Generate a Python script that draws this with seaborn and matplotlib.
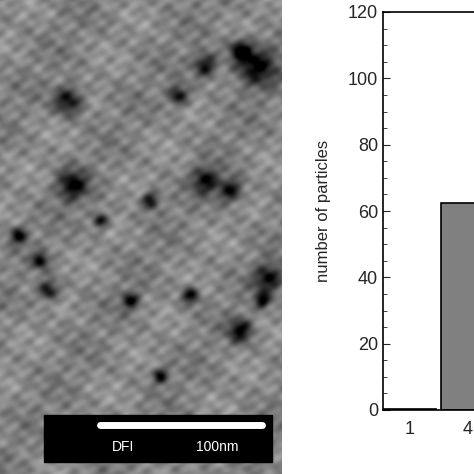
import numpy as np
import matplotlib
matplotlib.use("Agg")
import matplotlib.pyplot as plt
import seaborn as sns
import pandas as pd
from matplotlib.ticker import MultipleLocator

sns.set_style("white")
plt.rcParams['font.family'] = ['Liberation Sans', 'DejaVu Sans']

sizes = ["1", "4"]
counts = [0.4, 62.5]
blob_x = [68, 72, 256, 240, 205, 230, 205, 178, 268, 240, 150, 48, 18, 100, 190, 130, 160, 40, 262]
blob_y = [100, 185, 65, 50, 180, 190, 65, 95, 278, 330, 200, 290, 235, 220, 295, 300, 375, 260, 300]
blob_r = [13, 14, 19, 10, 12, 11, 11, 9, 13, 11, 8, 9, 8, 7, 8, 8, 7, 7, 7]

fig = plt.figure(figsize=(4.74, 4.74), dpi=100)

# micrograph panel
W, H = 282, 474
yy, xx = np.mgrid[0:H, 0:W].astype(float)
img = 0.52 + 0.035*np.sin(xx/4.1+yy/6.3) + 0.035*np.sin(yy/3.3 - xx/5.7) \
      + 0.03*np.sin(xx/2.3+1.0)*np.sin(yy/2.9) + 0.04*np.sin(xx/19+yy/27) \
      + 0.03*np.sin(xx/13.7 - yy/8.9) + 0.025*np.sin(yy/1.9 + xx/3.7)
for bx, by, br in zip(blob_x, blob_y, blob_r):
    img -= 0.5*np.exp(-((xx-bx)**2+(yy-by)**2)/(2*(br*0.75)**2))
img = np.clip(img, 0, 1)
axi = fig.add_axes([0, 0, W/474, 1])
axi.imshow(img, cmap="gray", vmin=0, vmax=1, aspect="auto", extent=(0, W, H, 0))
axi.add_patch(plt.Rectangle((44, 415), 228, 47, color="black"))
axi.plot([100, 262], [425, 425], color="white", lw=5)
axi.text(112, 447, "DFI", color="white", fontsize=10, va="center")
axi.text(196, 447, "100nm", color="white", fontsize=10, va="center")
axi.set_xlim(0, W); axi.set_ylim(H, 0)
axi.axis("off")

# histogram panel
ax = fig.add_axes([383/474, 64/474, 130/474, 398/474])
df = pd.DataFrame({"size": sizes, "count": counts})
sns.barplot(data=df, x="size", y="count", order=sizes, color="#808080",
            edgecolor="black", linewidth=1.2, width=0.92, saturation=1, ax=ax)
ax.set_xlim(-0.47, 1.8)
ax.set_ylim(0, 120)
ax.yaxis.set_major_locator(MultipleLocator(20))
ax.yaxis.set_minor_locator(MultipleLocator(5))
ax.tick_params(axis="y", which="both", direction="in", left=True, length=5, labelsize=13)
ax.tick_params(axis="y", which="minor", length=3)
ax.tick_params(axis="x", direction="in", bottom=False, labelsize=13, pad=8)
ax.set_xlabel("")
ax.set_ylabel("number of particles", fontsize=12, labelpad=12)
for s in ax.spines.values():
    s.set_color("black"); s.set_linewidth(1.2)

fig.savefig("out.png", dpi=100)
